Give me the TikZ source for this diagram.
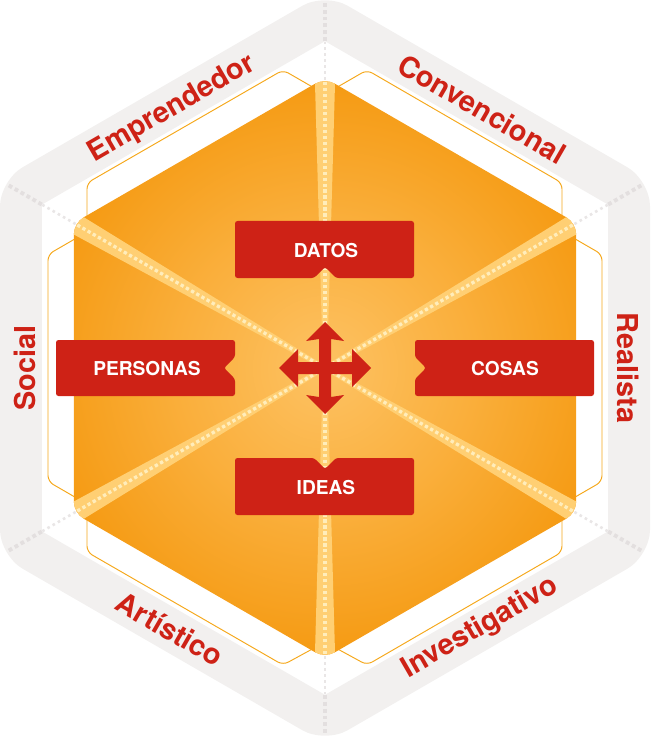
\documentclass[tikz,border=0pt]{standalone}
\usepackage{fontspec}
\setmainfont{TeX Gyre Heros}
\usetikzlibrary{calc}
\definecolor{hexlight}{HTML}{FDC263}
\definecolor{hexmid}{HTML}{FAAF3C}
\definecolor{hexdark}{HTML}{F59A12}
\definecolor{spokecol}{HTML}{FFCF73}
\definecolor{dotcol}{HTML}{FFEDBB}
\definecolor{bandcol}{HTML}{F2F0EF}
\definecolor{banddot}{HTML}{E3DFDF}
\definecolor{gapdot}{HTML}{E9E6E6}
\definecolor{tabcol}{HTML}{F5A81C}
\definecolor{redcol}{HTML}{CE2216}
\pgfdeclareradialshading{hexglow}{\pgfpoint{0bp}{0bp}}{color(0bp)=(hexlight); color(12.5bp)=(hexmid); color(25bp)=(hexdark); color(50bp)=(hexdark)}
\tikzstyle{tabline} = [draw=tabcol, line width=0.55pt, rounded corners=0.12cm]
\tikzstyle{redbox} = [fill=redcol, rounded corners=0.05cm]
\tikzstyle{boxtext} = [text=white, font=\fontsize{10.9}{12}\selectfont\bfseries]
\tikzstyle{sidetext} = [text=redcol, font=\fontsize{16.4}{20}\selectfont\bfseries]
\newcommand{\hexpath}[1]{($(hexc)+(30:#1)$) -- ($(hexc)+(90:#1)$) -- ($(hexc)+(150:#1)$) -- ($(hexc)+(210:#1)$) -- ($(hexc)+(270:#1)$) -- ($(hexc)+(330:#1)$) -- cycle}
\begin{document}
\begin{tikzpicture}[x=0.02cm,y=-0.02cm]
    \useasboundingbox (0,0) rectangle (650,736);
    \coordinate (hexc) at (325,368);

    % grey band
    \fill[bandcol, even odd rule] [rounded corners=0.52cm] \hexpath{375.3} [sharp corners] \hexpath{326.8};
    \foreach \ang in {30,90,...,330} {
        \draw[banddot, line width=2.2pt, dash pattern=on 2.2pt off 1.7pt] ($(hexc)+(\ang:327)$) -- ($(hexc)+(\ang:368)$);
        \draw[gapdot, line width=1.5pt, dash pattern=on 1.5pt off 1.9pt] ($(hexc)+(\ang:288)$) -- ($(hexc)+(\ang:327)$);
    }

    % thin tabs behind the hexagon
    \draw[tabline] (87,225) -- (87,183) -- (283,70) -- (316,89);
    \draw[tabline] (334,89) -- (367,70) -- (562,183) -- (562,225);
    \draw[tabline] (570,236) -- (602,254.5) -- (602,481.5) -- (570,500);
    \draw[tabline] (562,511) -- (562,552) -- (367,665) -- (334,647);
    \draw[tabline] (87,511) -- (87,552) -- (283,665) -- (316,647);
    \draw[tabline] (80,236) -- (48,254.5) -- (48,481.5) -- (80,500);

    % orange hexagon with spokes
    \begin{scope}
        \clip[rounded corners=0.22cm] \hexpath{290};
        \shade[shading=hexglow] (35,78) rectangle (615,658);
        \foreach \ang in {30,90,...,330} {
            \fill[spokecol] ($(hexc)+(\ang+90:2)$) -- ($(hexc)+(\ang+2:295)$) -- ($(hexc)+(\ang-2:295)$) -- ($(hexc)+(\ang-90:2)$) -- cycle;
            \draw[dotcol, line width=1.9pt, dash pattern=on 1.9pt off 1.5pt] ($(hexc)+(\ang:292)$) -- (hexc);
        }
    \end{scope}

    % boxes
    \fill[redbox] (235,221) -- (414,221) -- (414,278) -- (336,278) -- (325,267) -- (314,278) -- (235,278) -- cycle;
    \fill[redbox] (235,458) -- (314,458) -- (325,469) -- (336,458) -- (414,458) -- (414,515) -- (235,515) -- cycle;
    \fill[redbox] (56,340) -- (235,340) -- (235,357) -- (224,368) -- (235,379) -- (235,396) -- (56,396) -- cycle;
    \fill[redbox] (415,340) -- (594,340) -- (594,396) -- (415,396) -- (415,379) -- (426,368) -- (415,357) -- cycle;
    \node[boxtext] (datos) at (326,251) {DATOS};
    \node[boxtext] (ideas) at (326,488) {IDEAS};
    \node[boxtext] (personas) at (147,369) {PERSONAS};
    \node[boxtext] (cosas) at (505,369) {COSAS};

    % cross arrow
    \fill[redcol] (325,322) -- (344,341) -- (331,339) -- (331,362) -- (352,362) -- (352,349) -- (371,368)
        -- (352,387) -- (352,374) -- (331,374) -- (331,397) -- (344,395) -- (325,414) -- (306,395)
        -- (319,397) -- (319,374) -- (298,374) -- (298,387) -- (279,368) -- (298,349) -- (298,362)
        -- (319,362) -- (319,339) -- (306,341) -- cycle;

    % side labels
    \node[sidetext, rotate=30] (emprendedor) at (172,109) {Emprendedor};
    \node[sidetext, rotate=-30] (convencional) at (482,109) {Convencional};
    \node[sidetext, rotate=-90] (realista) at (628,368) {Realista};
    \node[sidetext, rotate=30] (investigativo) at (480,628) {Investigativo};
    \node[sidetext, rotate=-30] (artistico) at (170,629) {Artístico};
    \node[sidetext, rotate=90] (social) at (25,368) {Social};
\end{tikzpicture}
\end{document}
